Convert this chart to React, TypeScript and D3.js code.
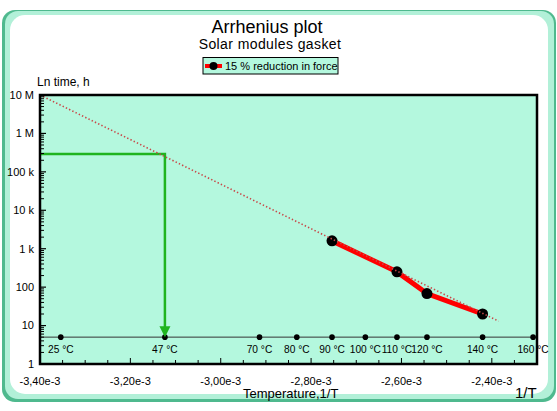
import React from 'react';
import * as d3 from 'd3';

// chart values
const tempLabels = [25, 47, 70, 80, 90, 100, 110, 120, 140, 160];
const testTemps = [90, 110, 120, 140];
const testHours = [1600, 250, 68, 20];
const fitInvT = [-3.4e-3, -2.385e-3];
const fitHours = [1.0e7, 13];
const targetTemp = 47;
const targetHours = 290000;
const baselineHours = 5;

const yTickValues = [1, 10, 100, 1e3, 1e4, 1e5, 1e6, 1e7];
const yTickLabels = ["1", "10", "100", "1 k", "10 k", "100 k", "1 M", "10 M"];
const xTickValues = [-3.4e-3, -3.2e-3, -3.0e-3, -2.8e-3, -2.6e-3, -2.4e-3];
const xTickLabels = ["-3,40e-3", "-3,20e-3", "-3,00e-3", "-2,80e-3", "-2,60e-3", "-2,40e-3"];

const invT = (c: number) => -1 / (c + 273.15);

const W = 557;
const H = 411;
const margin = { top: 95, right: 20, bottom: 47, left: 40 };
const font = "'Liberation Sans', Arial, sans-serif";

export default function App() {
  const x = d3.scaleLinear().domain([-3.4e-3, -2.3e-3]).range([margin.left, W - margin.right]);
  const y = d3.scaleLog().domain([1, 1e7]).range([H - margin.bottom, margin.top]);
  const [x0, x1] = x.range();
  const [yb, yt] = y.range();

  // minor ticks
  const yMinor: number[] = [];
  for (let d = 1; d < 1e7; d *= 10) for (let k = 2; k <= 9; k++) yMinor.push(d * k);
  const xMinor = d3.range(-3.4e-3, -2.3e-3, 0.05e-3);

  const line = d3.line<[number, number]>().x(d => x(d[0])).y(d => y(d[1]));
  const testPts: [number, number][] = testTemps.map((t, i) => [invT(t), testHours[i]]);
  const fitPts: [number, number][] = fitInvT.map((v, i) => [v, fitHours[i]]);

  const gx = x(invT(targetTemp));
  const gy = y(targetHours);
  const by = y(baselineHours);

  return (
    <svg width={W} height={H} style={{ position: 'absolute', left: 0, top: 0 }} fontFamily={font}>
      <rect width={W} height={H} fill="white" />
      {/* frame */}
      <rect x={2} y={10} width={554} height={392} rx={13} fill="#4fb98e" />
      <rect x={5} y={11} width={549} height={388} rx={13} fill="#b2f0d8" />
      <rect x={10} y={15} width={538} height={379} rx={15} fill="white" />

      <text x={267} y={33} textAnchor="middle" fontSize={18}>Arrhenius plot</text>
      <text x={270} y={49} textAnchor="middle" fontSize={14} letterSpacing={0.4}>Solar modules gasket</text>

      {/* legend */}
      <g>
        <rect x={203} y={57.5} width={135} height={16.5} fill="#b4f8de" stroke="black" strokeWidth={1} />
        <line x1={205} x2={222} y1={66} y2={66} stroke="#ff0000" strokeWidth={4} />
        <circle cx={213.5} cy={66} r={4} fill="black" />
        <text x={225} y={70} fontSize={11}>15 % reduction in force</text>
      </g>

      <text x={37} y={86} fontSize={12}>Ln time, h</text>

      {/* plot area */}
      <rect x={x0} y={yt} width={x1 - x0} height={yb - yt} fill="#b4f8de" />

      {/* temperature baseline */}
      <line x1={x0} x2={x1} y1={by} y2={by} stroke="#333" strokeWidth={1} />
      {tempLabels.map(t => (
        <g key={t}>
          <circle cx={x(invT(t))} cy={by} r={2.8} fill="black" />
          <text x={x(invT(t))} y={353} textAnchor="middle" fontSize={10.2}>{`${t} °C`}</text>
        </g>
      ))}

      {/* green lookup line */}
      <path d={`M${x0},${gy}H${gx}V${by - 10}`} fill="none" stroke="#1fb41f" strokeWidth={2.5} />
      <path d={`M${gx - 5.5},${by - 11}L${gx + 5.5},${by - 11}L${gx},${by}Z`} fill="#1fb41f" />

      {/* test data */}
      <path d={line(testPts) || ''} fill="none" stroke="#ff0000" strokeWidth={5} strokeLinejoin="round" />
      {testPts.map((p, i) => (
        <circle key={i} cx={x(p[0])} cy={y(p[1])} r={5.5} fill="black" />
      ))}

      {/* fit line */}
      <path d={line(fitPts) || ''} fill="none" stroke="#c84848" strokeWidth={1.6} strokeDasharray="1.4,2.2" />

      {/* ticks */}
      {yTickValues.map(v => (
        <line key={'yM' + v} x1={x0} x2={x0 + 6} y1={y(v)} y2={y(v)} stroke="black" strokeWidth={1.2} />
      ))}
      {yMinor.map(v => (
        <line key={'ym' + v} x1={x0} x2={x0 + 4} y1={y(v)} y2={y(v)} stroke="black" strokeWidth={1} />
      ))}
      {xMinor.map((v, i) => (
        <line key={'xm' + i} x1={x(v)} x2={x(v)} y1={yb} y2={yb - (i % 4 === 0 ? 6 : 4)} stroke="black" strokeWidth={1} />
      ))}

      <rect x={x0} y={yt} width={x1 - x0} height={yb - yt} fill="none" stroke="black" strokeWidth={2.5} />

      {/* tick labels */}
      {yTickValues.map((v, i) => (
        <text key={'yl' + v} x={34} y={y(v)} dy="0.35em" textAnchor="end" fontSize={11}>{yTickLabels[i]}</text>
      ))}
      {xTickValues.map((v, i) => (
        <text key={'xl' + i} x={x(v)} y={385} textAnchor="middle" fontSize={11}>{xTickLabels[i]}</text>
      ))}

      <text x={243} y={398} fontSize={13}>Temperature,1/T</text>
      <text x={515} y={398} fontSize={15}>1/T</text>
    </svg>
  );
}
